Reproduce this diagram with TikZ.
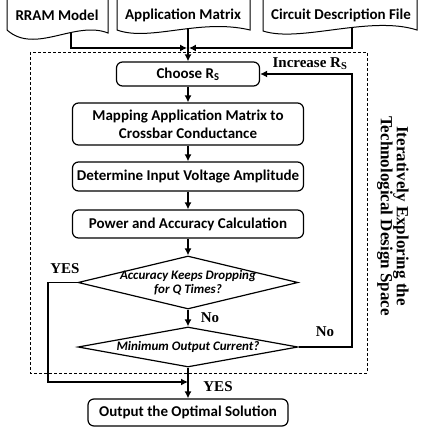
\documentclass[tikz,border=0pt]{standalone}
\usepackage{fontspec}
\setmainfont{Liberation Serif}
\newfontfamily\boxfont{Carlito}
\usetikzlibrary{shapes.geometric,arrows.meta,positioning}

\begin{document}
\begin{tikzpicture}[x=1pt,y=-1pt,line width=1.2pt,
    proc/.style={draw,rounded corners=6pt,inner sep=0pt,align=center,
      font=\boxfont\bfseries\fontsize{15}{18}\selectfont},
    docname/.style={inner sep=0pt,font=\boxfont\bfseries\fontsize{15}{18}\selectfont},
    doc/.style={draw,fill=white,line width=1pt},
    decision/.style={draw,diamond,inner sep=0pt},
    dtext/.style={inner sep=0pt,align=center,
      font=\boxfont\bfseries\itshape\fontsize{13}{14}\selectfont},
    lbl/.style={inner sep=0pt,font=\bfseries\fontsize{15}{18}\selectfont},
    flow/.style={line width=1.8pt,-{Latex[length=7pt,width=7pt]}}]
    \useasboundingbox (0,0) rectangle (427,427);
    \coordinate (rramb) at (71,30);
    \coordinate (appb) at (188,20);
    \coordinate (circb) at (352,22);
    \coordinate (mrg) at (188,48);
    \node[proc,minimum width=143,minimum height=24] (choose) at (188,74) {Choose R\textsubscript{S}};
    \draw[flow] (rramb) |- ([xshift=-0.9pt]mrg);
    \draw[flow] (circb) |- ([xshift=0.9pt]mrg);
    \draw[flow] (appb) -- (choose.north);
    \draw[doc] (7,-5) -- (7,30) .. controls (35,55) and (75,20) .. (108,33) -- (108,-5) -- cycle;
    \draw[doc] (117,-5) -- (117,30) .. controls (150,42) and (200,18) .. (250,30) -- (250,-5) -- cycle;
    \draw[doc] (263,-5) -- (263,31) .. controls (300,43) and (370,15) .. (417,30) -- (417,-5) -- cycle;
    \node[docname] (rram) at (57,15) {RRAM Model};
    \node[docname] (app) at (183,15) {Application Matrix};
    \node[docname] (circ) at (341,15) {Circuit Description File};
    \draw[dashed,dash pattern=on 3pt off 2pt,line width=0.9pt] (30,52) rectangle (367,373);
    \node[proc,minimum width=231,minimum height=42] (map) at (188,124) {Mapping Application Matrix to\\Crossbar Conductance};
    \node[proc,minimum width=231,minimum height=29] (volt) at (188,176.5) {Determine Input Voltage Amplitude};
    \node[proc,minimum width=231,minimum height=28] (power) at (188,224) {Power and Accuracy Calculation};
    \node[decision,minimum width=220,minimum height=53] (acc) at (188,282.5) {};
    \node[dtext] (acct) at (acc) {Accuracy Keeps Dropping\\for Q Times?};
    \node[decision,minimum width=220,minimum height=40] (minc) at (188,347) {};
    \node[dtext] (mint) at (minc) {Minimum Output Current?};
    \node[proc,minimum width=200,minimum height=27] (out) at (188,412.5) {Output the Optimal Solution};
    \draw[flow] (choose) -- (map);
    \draw[flow] (map) -- (volt);
    \draw[flow] (volt) -- (power);
    \draw[flow] (power) -- (acc);
    \draw[flow] (acc) -- (minc);
    \draw[flow] (minc) -- (out);
    \coordinate (fb) at (352,74);
    \draw[flow] (minc.east) -| (fb) -- (choose.east);
    \coordinate (yesc) at (48,382);
    \coordinate (yesj) at (188,382);
    \draw[flow] (acc.west) -| (yesc) -- (yesj);
    \node[lbl] (incr) at (310,64) {Increase R\textsubscript{S}};
    \node[lbl] (yes1) at (65,269) {YES};
    \node[lbl] (no1) at (210,318) {No};
    \node[lbl] (no2) at (325,332) {No};
    \node[lbl] (yes2) at (218,387) {YES};
    \node[rotate=-90,align=center,font=\bfseries\fontsize{17}{16}\selectfont] (iter) at (393,216) {Iteratively Exploring the\\Technological Design Space};
\end{tikzpicture}
\end{document}
